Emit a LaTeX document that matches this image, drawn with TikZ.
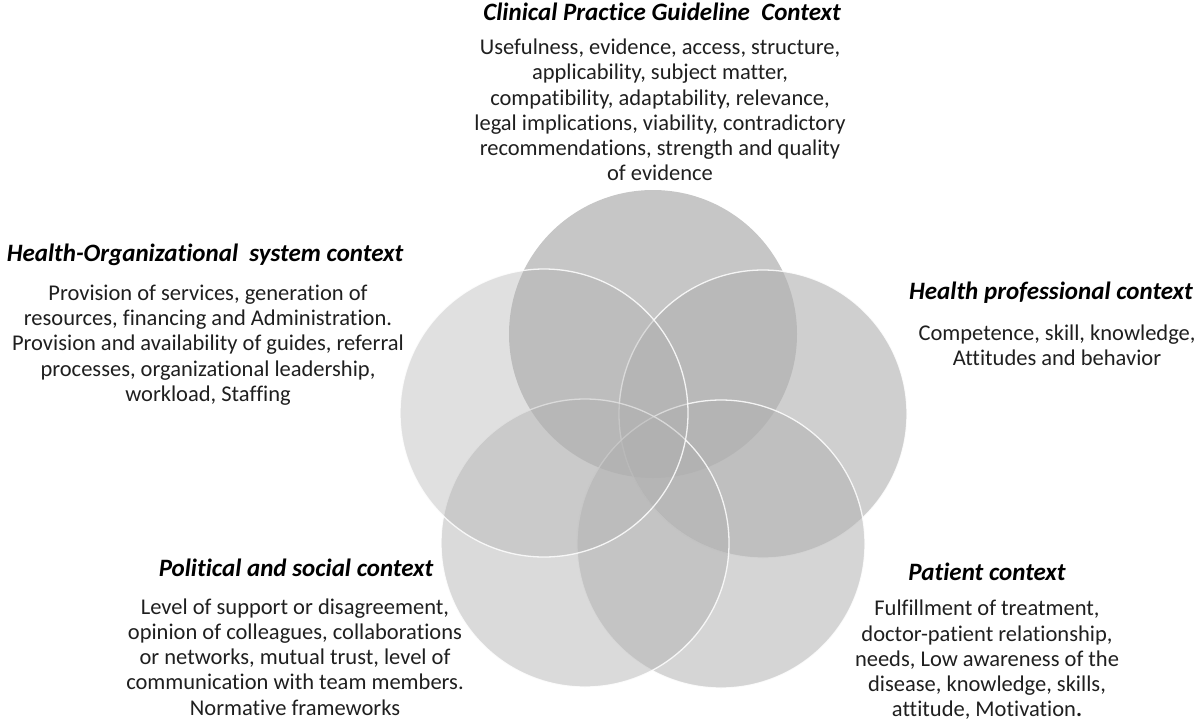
\documentclass[tikz,border=0pt]{standalone}
\usepackage{fontspec}
\setmainfont{Carlito}[Ligatures=NoCommon]
\definecolor{ringgray}{gray}{0.69}
\definecolor{bodytext}{gray}{0.12}

\begin{document}
\begin{tikzpicture}[x=1pt, y=-1pt,
	ring/.style={circle, minimum size=288pt, inner sep=0pt, fill=ringgray},
	rim/.style={draw=white, draw opacity=0.85, line width=1.3pt},
	head/.style={inner sep=0pt, font=\fontsize{25}{28}\selectfont\bfseries\itshape},
	body/.style={inner sep=0pt, align=center, text=bodytext, font=\fontsize{22.5}{25.2}\selectfont}]
			%%%%% START %%%%%
			
			\useasboundingbox (0, 0) rectangle (1200, 724);
			
			% the five rings
			\node[ring, fill opacity=0.72] (cpg) at (653, 334) {};
			\node[ring, fill opacity=0.61, rim] (prof) at (763, 414) {};
			\node[ring, fill opacity=0.53, rim] (pat) at (721, 544) {};
			\node[ring, fill opacity=0.47, rim] (pol) at (585, 543) {};
			\node[ring, fill opacity=0.39, rim] (org) at (544, 413) {};
			
			% top
			\node[head] (cpghead) at (662, 12) {Clinical Practice Guideline\ \ Context};
			\node[body] (cpgtext) at (660, 110) {Usefulness, evidence, access, structure,\\
				applicability, subject matter,\\
				compatibility, adaptability, relevance,\\
				legal implications, viability, contradictory\\
				recommendations, strength and quality\\
				of evidence};
			
			% left
			\node[head] (orghead) at (205, 255) {Health-Organizational\ \ system context};
			\node[body] (orgtext) at (208, 345) {Provision of services, generation of\\
				resources, financing and Administration.\\
				Provision and availability of guides, referral\\
				processes, organizational leadership,\\
				workload, Staffing};
			
			% right
			\node[head] (profhead) at (1051, 293) {Health professional context};
			\node[body] (proftext) at (1057, 345) {Competence, skill, knowledge,\\
				Attitudes and behavior};
			
			% bottom left
			\node[head] (polhead) at (296, 568) {Political and social context};
			\node[body] (poltext) at (295, 657) {Level of support or disagreement,\\
				opinion of colleagues, collaborations\\
				or networks, mutual trust, level of\\
				communication with team members.\\
				Normative frameworks};
			
			% bottom right
			\node[head] (pathead) at (987, 572) {Patient context};
			\node[body] (pattext) at (987, 660) {Fulfillment of treatment,\\
				doctor-patient relationship,\\
				needs, Low awareness of the\\
				disease, knowledge, skills,\\
				attitude, Motivation{\bfseries .}};
			
			%%%%% END %%%%%
\end{tikzpicture}
\end{document}
